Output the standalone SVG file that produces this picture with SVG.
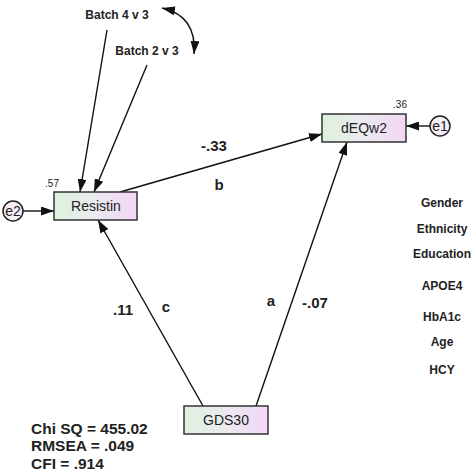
<svg xmlns="http://www.w3.org/2000/svg" width="474" height="474" viewBox="0 0 474 474">
<style>
.box{fill:url(#g);stroke:#333;stroke-width:1.5}
.nt{font-family:"Liberation Sans",Arial,sans-serif;font-size:14px;fill:#222;text-anchor:middle}
.lb{font-family:"Liberation Sans",Arial,sans-serif;font-weight:bold;fill:#222;text-anchor:middle}
.sm{font-family:"Liberation Sans",Arial,sans-serif;font-size:10px;fill:#222;text-anchor:middle}
.ln{stroke:#111;stroke-width:1.4;fill:none;marker-end:url(#ah)}
.circ{fill:#f8eef8;stroke:#222;stroke-width:1.5}
</style>
<defs>
<linearGradient id="g" x1="0" y1="0" x2="1" y2="0">
<stop offset="0" stop-color="#ddf2dc"/>
<stop offset="0.5" stop-color="#eaeaf0"/>
<stop offset="1" stop-color="#f3d6f5"/>
</linearGradient>
<marker id="ah" viewBox="0 0 13 9" refX="13" refY="4.5" markerWidth="13" markerHeight="9" markerUnits="userSpaceOnUse" orient="auto">
<path d="M0,0 L13,4.5 L0,9 Z" fill="#111"/>
</marker>
<marker id="ahs" viewBox="0 0 13 9" refX="13" refY="4.5" markerWidth="13" markerHeight="9" markerUnits="userSpaceOnUse" orient="auto-start-reverse">
<path d="M0,0 L13,4.5 L0,9 Z" fill="#111"/>
</marker>
</defs>
<rect width="474" height="474" fill="#fff"/>
<g id="connectors">
<line class="ln" x1="107" y1="30" x2="80" y2="192"/>
<line class="ln" x1="147" y1="65" x2="94" y2="192"/>
<path d="M162,8 Q197,16 194,54" stroke="#111" stroke-width="1.4" fill="none" marker-start="url(#ahs)" marker-end="url(#ahs)"/>
<line class="ln" x1="120" y1="192" x2="322" y2="134"/>
<line class="ln" x1="203" y1="406" x2="98" y2="220"/>
<line class="ln" x1="256" y1="406" x2="347" y2="142"/>
<line class="ln" x1="23" y1="211" x2="54" y2="211"/>
<line class="ln" x1="430" y1="126" x2="406" y2="126"/>
</g>
<g id="batch4"><text class="lb" x="117" y="19" font-size="12">Batch 4 v 3</text></g>
<g id="batch2"><text class="lb" x="147" y="55" font-size="12">Batch 2 v 3</text></g>
<g id="resistin">
<rect class="box" x="54" y="192" width="83" height="28"/>
<text class="nt" x="96" y="211">Resistin</text>
<text class="sm" x="52" y="187">.57</text>
</g>
<g id="e2">
<circle class="circ" cx="13" cy="211" r="10"/>
<text class="nt" x="13" y="215.5" font-size="12">e2</text>
</g>
<g id="deqw2">
<rect class="box" x="322" y="114" width="84" height="28"/>
<text class="nt" x="364" y="133">dEQw2</text>
<text class="sm" x="400" y="108">.36</text>
</g>
<g id="e1">
<circle class="circ" cx="440" cy="126" r="10"/>
<text class="nt" x="440" y="130.5" font-size="12">e1</text>
</g>
<g id="gds30">
<rect class="box" x="184" y="406" width="84" height="28"/>
<text class="nt" x="226" y="425">GDS30</text>
</g>
<g id="labels">
<text class="lb" x="214" y="151" font-size="15">-.33</text>
<text class="lb" x="219" y="190" font-size="15">b</text>
<text class="lb" x="123" y="315" font-size="15">.11</text>
<text class="lb" x="166" y="312" font-size="15">c</text>
<text class="lb" x="271" y="306" font-size="15">a</text>
<text class="lb" x="315" y="308" font-size="15">-.07</text>
</g>
<g id="covariates">
<text class="lb" x="442" y="207" font-size="12">Gender</text>
<text class="lb" x="442" y="233" font-size="12">Ethnicity</text>
<text class="lb" x="442" y="258" font-size="12">Education</text>
<text class="lb" x="442" y="290" font-size="12">APOE4</text>
<text class="lb" x="442" y="321" font-size="12">HbA1c</text>
<text class="lb" x="442" y="346" font-size="12">Age</text>
<text class="lb" x="442" y="374" font-size="12">HCY</text>
</g>
<g id="fit">
<text class="lb" x="31" y="433.5" font-size="15.5" style="text-anchor:start">Chi SQ = 455.02</text>
<text class="lb" x="31" y="450.5" font-size="15.5" style="text-anchor:start">RMSEA = .049</text>
<text class="lb" x="31" y="468.5" font-size="15.5" style="text-anchor:start">CFI = .914</text>
</g>
</svg>
